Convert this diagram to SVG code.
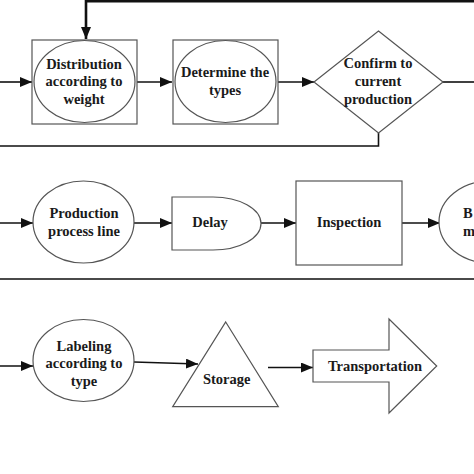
<svg xmlns="http://www.w3.org/2000/svg" width="474" height="474" viewBox="0 0 474 474">
<style>
.shape{fill:#fff;stroke:#555;stroke-width:1.2}
.conn{fill:none;stroke:#111;stroke-width:1.6}
.t{font-family:"Liberation Serif","Times New Roman",serif;font-weight:bold;font-size:14.5px;fill:#1a1a1a;text-anchor:middle}
.tl{font-family:"Liberation Serif","Times New Roman",serif;font-weight:bold;font-size:14.5px;fill:#1a1a1a;text-anchor:start}
</style>
<defs>
<marker id="ah" markerUnits="userSpaceOnUse" markerWidth="12" markerHeight="10" refX="12" refY="5" orient="auto">
<path d="M0,0 L12,5 L0,10 Z" fill="#111"/>
</marker>
</defs>
<rect width="474" height="474" fill="#fff"/>

<g id="connectors">
<polyline class="conn" style="stroke-width:2.6" points="474,1.3 86,1.3 86,39" marker-end="url(#ah)"/>
<line class="conn" x1="0" y1="82" x2="32" y2="82" marker-end="url(#ah)"/>
<line class="conn" x1="137" y1="82" x2="172" y2="82" marker-end="url(#ah)"/>
<line class="conn" x1="278" y1="82" x2="314" y2="82" marker-end="url(#ah)"/>
<line class="conn" x1="443" y1="82" x2="474" y2="82"/>
<polyline class="conn" points="378.5,133 378.5,146 0,146"/>
<line class="conn" x1="0" y1="223" x2="33" y2="223" marker-end="url(#ah)"/>
<line class="conn" x1="134" y1="223" x2="172" y2="223" marker-end="url(#ah)"/>
<line class="conn" x1="261" y1="223" x2="296" y2="223" marker-end="url(#ah)"/>
<line class="conn" x1="402" y1="223" x2="440" y2="223" marker-end="url(#ah)"/>
<line class="conn" x1="0" y1="366" x2="33" y2="366" marker-end="url(#ah)"/>
<line class="conn" x1="134" y1="362" x2="198" y2="364" marker-end="url(#ah)"/>
<line class="conn" x1="268" y1="367.5" x2="313" y2="367.5" marker-end="url(#ah)"/>
</g>

<line x1="0" y1="279" x2="474" y2="279" stroke="#4a4a4a" stroke-width="2"/>

<g id="distribution">
<rect class="shape" x="32" y="40" width="105" height="84"/>
<ellipse class="shape" cx="84.5" cy="81.5" rx="50.5" ry="41"/>
<text class="t" x="84" y="68.5">Distribution</text>
<text class="t" x="84" y="86">according to</text>
<text class="t" x="84" y="103.5">weight</text>
</g>

<g id="determine">
<rect class="shape" x="173" y="40" width="105" height="84"/>
<ellipse class="shape" cx="225.5" cy="81.5" rx="50.5" ry="41"/>
<text class="t" x="225" y="77.3">Determine the</text>
<text class="t" x="225" y="95">types</text>
</g>

<g id="confirm">
<polygon class="shape" points="378.5,31 443,82 378.5,133 314,82"/>
<text class="t" x="378" y="68.3">Confirm to</text>
<text class="t" x="378" y="86">current</text>
<text class="t" x="378" y="104">production</text>
</g>

<g id="production">
<ellipse class="shape" cx="83.5" cy="222" rx="50.5" ry="41"/>
<text class="t" x="84" y="218.3">Production</text>
<text class="t" x="84" y="236">process line</text>
</g>

<g id="delay">
<path class="shape" d="M172,197 H213 A48,26.5 0 0 1 213,250 H172 Z"/>
<text class="t" x="210" y="226.7">Delay</text>
</g>

<g id="inspection">
<rect class="shape" x="296" y="181" width="106" height="84"/>
<text class="t" x="349" y="227.3">Inspection</text>
</g>

<g id="b-node">
<ellipse class="shape" cx="490" cy="222" rx="51" ry="41"/>
<text class="tl" x="463" y="218.3">B</text>
<text class="tl" x="463" y="236">m</text>
</g>

<g id="labeling">
<ellipse class="shape" cx="83.5" cy="360.5" rx="50.5" ry="41"/>
<text class="t" x="84" y="350.7">Labeling</text>
<text class="t" x="84" y="368.3">according to</text>
<text class="t" x="84" y="386">type</text>
</g>

<g id="storage">
<polygon class="shape" points="225.7,322 278.3,406.7 172.7,406.7"/>
<text class="t" x="226.7" y="384">Storage</text>
</g>

<g id="transportation">
<polygon class="shape" points="313,350 389,350 389,319 436.7,366 389,413 389,382 313,382"/>
<text class="t" x="375" y="370.7">Transportation</text>
</g>
</svg>
